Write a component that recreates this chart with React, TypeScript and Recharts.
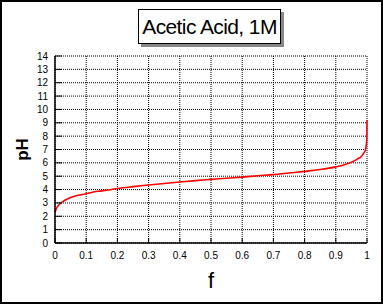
import { LineChart, Line, XAxis, YAxis, CartesianGrid } from 'recharts';

// f = fraction titrated
const fValues = [
  0, 0.005, 0.01, 0.017, 0.025, 0.038, 0.05, 0.065, 0.08, 0.097, 0.123, 0.15, 0.171,
  0.2, 0.25, 0.3, 0.35, 0.4, 0.45, 0.5, 0.55, 0.6, 0.65, 0.7, 0.75, 0.8, 0.85, 0.9,
  0.93, 0.954, 0.97, 0.981, 0.99, 0.995, 0.998, 0.9995, 1,
];
const phValues = [
  2.3, 2.6, 2.8, 2.97, 3.1, 3.27, 3.4, 3.52, 3.6, 3.67, 3.82, 3.9, 3.97,
  4.08, 4.22, 4.34, 4.46, 4.57, 4.67, 4.76, 4.85, 4.93, 5.03, 5.12, 5.24, 5.36, 5.5, 5.7,
  5.87, 6.09, 6.3, 6.46, 6.75, 6.96, 7.4, 7.8, 9.2,
];
const xTicks = [0, 0.1, 0.2, 0.3, 0.4, 0.5, 0.6, 0.7, 0.8, 0.9, 1];
const yTicks = [0, 1, 2, 3, 4, 5, 6, 7, 8, 9, 10, 11, 12, 13, 14];

const data = fValues.map((f, i) => ({ f, ph: phValues[i] }));

const FONT = '"Liberation Sans", Arial, sans-serif';
const tickStyle = { fontSize: 10, fill: '#000', fontFamily: FONT };

export default function App() {
  return (
    <div
      style={{
        position: 'absolute',
        left: 0,
        top: 0,
        width: 383,
        height: 304,
        boxSizing: 'border-box',
        border: '2px solid #000',
        background: '#fff',
      }}
    >
      <div style={{ position: 'absolute', left: -2, top: -2 }}>
        <LineChart
          width={383}
          height={304}
          data={data}
          margin={{ top: 56, right: 16, left: 0, bottom: 0 }}
        >
          <CartesianGrid stroke="#000" strokeDasharray="1 1" />
          <XAxis
            dataKey="f"
            type="number"
            domain={[0, 1]}
            ticks={xTicks}
            interval={0}
            height={61}
            tickSize={-5}
            tickMargin={14}
            tick={tickStyle}
            stroke="#000"
            tickLine={{ stroke: '#000' }}
            axisLine={{ stroke: '#000', strokeWidth: 1.5 }}
            label={{ value: 'f', position: 'insideBottom', offset: 16, style: { fontSize: 22, fill: '#000', fontFamily: FONT } }}
          />
          <XAxis
            xAxisId="top"
            dataKey="f"
            type="number"
            domain={[0, 1]}
            orientation="top"
            height={0}
            tick={false}
            tickLine={false}
            axisLine={{ stroke: '#000', strokeWidth: 1.5 }}
          />
          <YAxis
            type="number"
            domain={[0, 14]}
            ticks={yTicks}
            interval={0}
            width={55}
            tickSize={-7}
            tickMargin={14}
            tick={tickStyle}
            stroke="#000"
            tickLine={{ stroke: '#000' }}
            axisLine={{ stroke: '#000', strokeWidth: 1.5 }}
            label={{ value: 'pH', position: 'center', angle: -90, dx: -6, style: { fontSize: 17, fill: '#000', fontFamily: FONT, fontWeight: 'bold' } }}
          />
          <YAxis
            yAxisId="right"
            orientation="right"
            domain={[0, 14]}
            width={0}
            tick={false}
            tickLine={false}
            axisLine={{ stroke: '#000', strokeWidth: 1.5 }}
          />
          <Line
            type="monotone"
            dataKey="ph"
            stroke="#ff0000"
            strokeWidth={1.6}
            dot={false}
            isAnimationActive={false}
          />
        </LineChart>
      </div>
      <div
        style={{
          position: 'absolute',
          left: 136,
          top: 7,
          width: 141,
          height: 33,
          border: '1px solid #000',
          boxShadow: '3px 3px 0 #888',
          background: '#fff',
          display: 'flex',
          alignItems: 'center',
          justifyContent: 'center',
          fontFamily: FONT,
          fontSize: 21,
          letterSpacing: -0.6,
          color: '#000',
          whiteSpace: 'nowrap',
        }}
      >
        Acetic Acid, 1M
      </div>
    </div>
  );
}
